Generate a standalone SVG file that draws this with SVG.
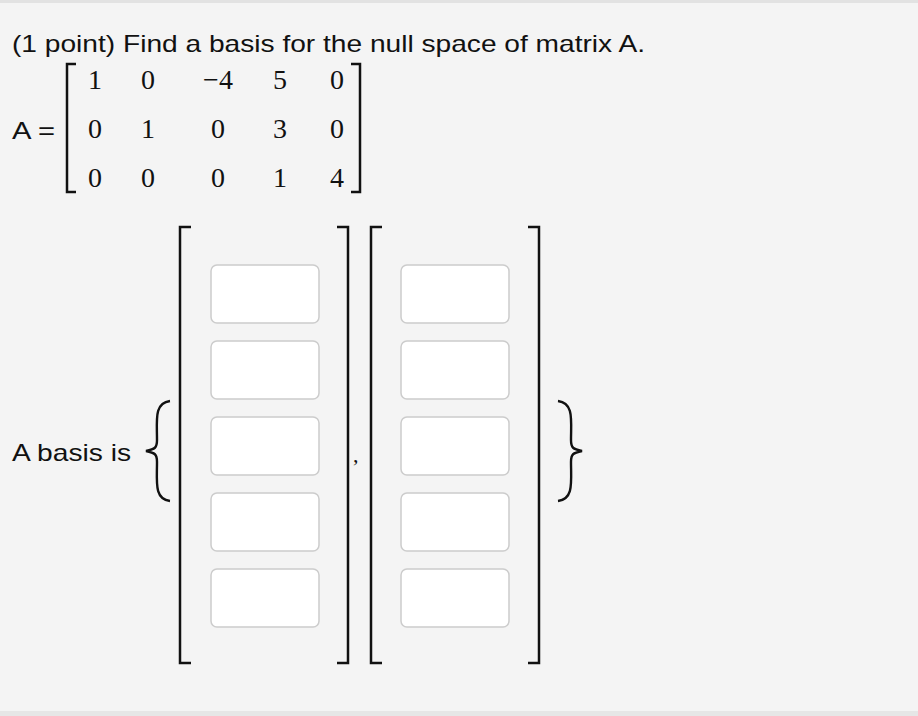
<svg xmlns="http://www.w3.org/2000/svg" width="918" height="716" viewBox="0 0 918 716">
<style>
.s{font-family:"Liberation Sans",Arial,sans-serif;font-size:24px;fill:#111}
.m{font-family:"Liberation Serif","Times New Roman",serif;font-size:28px;fill:#111;text-anchor:middle}
.br{fill:none;stroke:#111;stroke-width:2.5}
.bx{fill:#fff;stroke:#ccc;stroke-width:1.5}
</style>
<rect width="918" height="716" fill="#f4f4f4"/>
<rect width="918" height="3" fill="#e2e2e2"/>
<rect y="711" width="918" height="5" fill="#e6e6e6"/>
<text class="s" x="12" y="52" textLength="633" lengthAdjust="spacingAndGlyphs">(1 point) Find a basis for the null space of matrix A.</text>
<g id="matrix">
<text class="s" x="12" y="139" textLength="43" lengthAdjust="spacingAndGlyphs">A =</text>
<path class="br" d="M76,64 H67 V192 H76"/>
<path class="br" d="M351,64 H360 V192 H351"/>
<g class="m">
<text x="95" y="89">1</text><text x="148" y="89">0</text><text x="218" y="89">−4</text><text x="280" y="89">5</text><text x="337" y="89">0</text>
<text x="95" y="138">0</text><text x="148" y="138">1</text><text x="218" y="138">0</text><text x="280" y="138">3</text><text x="337" y="138">0</text>
<text x="95" y="187">0</text><text x="148" y="187">0</text><text x="218" y="187">0</text><text x="280" y="187">1</text><text x="337" y="187">4</text>
</g>
</g>
<text class="s" x="12" y="461" textLength="119" lengthAdjust="spacingAndGlyphs">A basis is</text>
<path d="M170,401 C154,403 157,420 157,440 C157,448 155,449 146,451 C155,453 157,454 157,462 C157,482 154,499 170,501" fill="none" stroke="#111" stroke-width="2.4"/>
<path d="M558,401 C574,403 571,420 571,440 C571,448 573,449 582,451 C573,453 571,454 571,462 C571,482 574,499 558,501" fill="none" stroke="#111" stroke-width="2.4"/>
<g id="vec1">
<path class="br" d="M191,227 H180 V663 H191"/>
<path class="br" d="M337,227 H348 V663 H337"/>
<rect class="bx" x="211" y="265" width="108" height="58" rx="6"/>
<rect class="bx" x="211" y="341" width="108" height="58" rx="6"/>
<rect class="bx" x="211" y="417" width="108" height="58" rx="6"/>
<rect class="bx" x="211" y="493" width="108" height="58" rx="6"/>
<rect class="bx" x="211" y="569" width="108" height="58" rx="6"/>
</g>
<text x="353" y="462" style="font-family:'Liberation Serif',serif;font-size:22px;fill:#111">,</text>
<g id="vec2">
<path class="br" d="M382,227 H371 V663 H382"/>
<path class="br" d="M528,227 H539 V663 H528"/>
<rect class="bx" x="401" y="265" width="108" height="58" rx="6"/>
<rect class="bx" x="401" y="341" width="108" height="58" rx="6"/>
<rect class="bx" x="401" y="417" width="108" height="58" rx="6"/>
<rect class="bx" x="401" y="493" width="108" height="58" rx="6"/>
<rect class="bx" x="401" y="569" width="108" height="58" rx="6"/>
</g>
</svg>
